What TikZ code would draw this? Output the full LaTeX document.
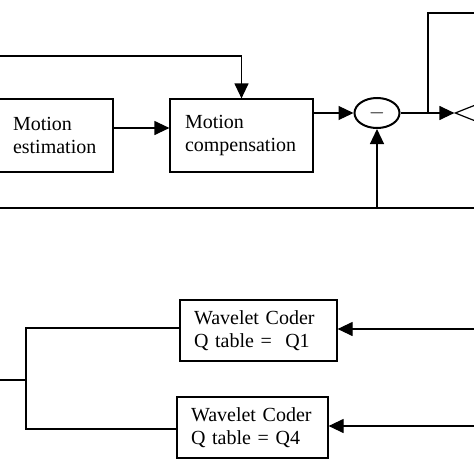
\documentclass[tikz,border=0pt]{standalone}
\usepackage{fontspec}
\setmainfont{Liberation Serif}
\usetikzlibrary{shapes.geometric,arrows.meta}

\begin{document}
\begin{tikzpicture}[x=1pt, y=-1pt, line width=1.2pt,
    every node/.style={font=\fontsize{20}{23}\selectfont},
    block/.style={draw, rectangle, align=left, inner xsep=15pt, inner ysep=0pt, minimum height=73pt},
    coder/.style={draw, rectangle, align=left, inner xsep=14pt, inner ysep=0pt, minimum height=61pt},
    arr/.style={-{Triangle[length=15pt,width=14pt]}}]

\clip (0,0) rectangle (474,474);
\fill[white] (0,0) rectangle (474,474);

% upper part
\node[block, text width=85pt] (est) at (55.5,135.5) {Motion\\estimation};
\node[block, text width=113pt] (comp) at (241.5,135.5) {Motion\\compensation};
\node[draw, ellipse, line width=2pt, minimum width=45pt, minimum height=30pt, inner sep=0pt] (sub) at (377,113) {$-$};
\node[draw, diamond, minimum width=90pt, minimum height=36pt, inner sep=0pt] (cmp) at (500,113) {};

\coordinate (j) at (428,113);
\coordinate (fb) at (474,13);
\coordinate (ref) at (0,56);
\coordinate (bl) at (0,208);
\coordinate (br) at (474,208);

\draw[arr] (ref) -| (comp.north);
\draw[arr] (est.east |- 0,128) -- (comp.west |- 0,128);
\draw[arr] (comp.east |- sub) -- (sub.west);
\draw (sub.east) -- (j);
\draw[arr] (j) -- (cmp.west);
\draw (j) |- (fb);
\draw (bl) -- (br);
\draw[arr] (bl -| sub.south) -- (sub.south);

% lower part
\node[coder, text width=129pt, inner xsep=14pt] (wc1) at (258.5,330.5) {Wavelet Coder\\Q table = \ Q1};
\node[coder, text width=123pt] (wc2) at (252.5,427.5) {Wavelet Coder\\Q table = Q4};

\coordinate (in1) at (474,329);
\coordinate (in4) at (474,426);
\coordinate (split) at (26,380);
\coordinate (out) at (0,380);

\draw[arr] (in1) -- (in1 -| wc1.east);
\draw[arr] (in4) -- (in4 -| wc2.east);
\draw (wc1.west |- 0,328) -| (split) |- (wc2.west |- 0,429);
\draw (split) -- (out);
\end{tikzpicture}
\end{document}
